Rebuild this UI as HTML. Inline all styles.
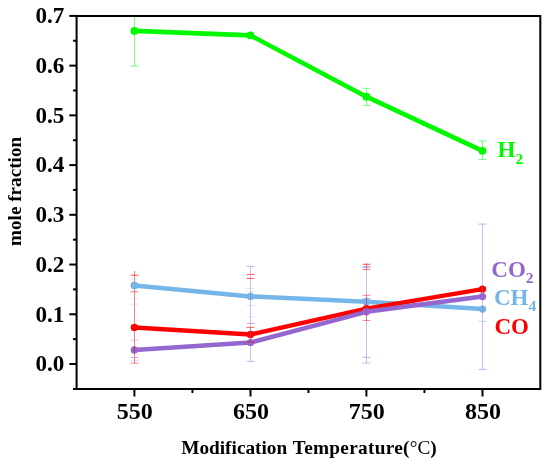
<!DOCTYPE html><html><head><meta charset="utf-8"><style>html,body{margin:0;padding:0;background:#fff;}svg{display:block;}text{font-family:"Liberation Serif",serif;font-weight:bold;}</style></head><body>
<svg width="550" height="464" viewBox="0 0 550 464">
<rect width="550" height="464" fill="#fff"/>
<polyline points="134.4,30.9 250.5,35.4 366.4,96.7 482.5,150.8" fill="none" stroke="#00f800" stroke-width="4.6" stroke-linejoin="round"/>
<circle cx="134.4" cy="30.9" r="3.9" fill="#00f800"/>
<circle cx="250.5" cy="35.4" r="3.9" fill="#00f800"/>
<circle cx="366.4" cy="96.7" r="3.9" fill="#00f800"/>
<circle cx="482.5" cy="150.8" r="3.9" fill="#00f800"/>
<polyline points="134.4,285.5 250.5,296.4 366.4,301.8 482.5,309.1" fill="none" stroke="#75b5e7" stroke-width="4.5" stroke-linejoin="round"/>
<circle cx="134.4" cy="285.5" r="3.7" fill="#75b5e7"/>
<circle cx="250.5" cy="296.4" r="3.7" fill="#75b5e7"/>
<circle cx="366.4" cy="301.8" r="3.7" fill="#75b5e7"/>
<circle cx="482.5" cy="309.1" r="3.7" fill="#75b5e7"/>
<polyline points="134.4,327.4 250.5,334.5 366.4,308.6 482.5,289.1" fill="none" stroke="#ff0000" stroke-width="4.5" stroke-linejoin="round"/>
<circle cx="134.4" cy="327.4" r="3.7" fill="#ff0000"/>
<circle cx="250.5" cy="334.5" r="3.7" fill="#ff0000"/>
<circle cx="366.4" cy="308.6" r="3.7" fill="#ff0000"/>
<circle cx="482.5" cy="289.1" r="3.7" fill="#ff0000"/>
<polyline points="134.4,349.9 250.5,342.6 366.4,311.8 482.5,296.6" fill="none" stroke="#9467cf" stroke-width="4.5" stroke-linejoin="round"/>
<circle cx="134.4" cy="349.9" r="3.7" fill="#9467cf"/>
<circle cx="250.5" cy="342.6" r="3.7" fill="#9467cf"/>
<circle cx="366.4" cy="311.8" r="3.7" fill="#9467cf"/>
<circle cx="482.5" cy="296.6" r="3.7" fill="#9467cf"/>
<line x1="134.5" y1="16.5" x2="134.5" y2="66.1" stroke="#00f800" stroke-width="1.0" stroke-opacity="0.5"/>
<line x1="130.6" y1="66.1" x2="138.4" y2="66.1" stroke="#00f800" stroke-width="1.0" stroke-opacity="0.5"/>
<line x1="366.5" y1="88.3" x2="366.5" y2="105.4" stroke="#00f800" stroke-width="1.0" stroke-opacity="0.5"/>
<line x1="362.6" y1="88.3" x2="370.4" y2="88.3" stroke="#00f800" stroke-width="1.0" stroke-opacity="0.5"/>
<line x1="362.6" y1="105.4" x2="370.4" y2="105.4" stroke="#00f800" stroke-width="1.0" stroke-opacity="0.5"/>
<line x1="482.5" y1="141" x2="482.5" y2="159.5" stroke="#00f800" stroke-width="1.0" stroke-opacity="0.5"/>
<line x1="478.6" y1="141" x2="486.4" y2="141" stroke="#00f800" stroke-width="1.0" stroke-opacity="0.5"/>
<line x1="478.6" y1="159.5" x2="486.4" y2="159.5" stroke="#00f800" stroke-width="1.0" stroke-opacity="0.5"/>
<line x1="134.5" y1="271" x2="134.5" y2="363.1" stroke="#ff0000" stroke-width="1.0" stroke-opacity="0.5"/>
<line x1="130.6" y1="275.2" x2="138.4" y2="275.2" stroke="#ff0000" stroke-width="1.0" stroke-opacity="0.7"/>
<line x1="130.6" y1="291.8" x2="138.4" y2="291.8" stroke="#ff0000" stroke-width="1.0" stroke-opacity="0.45"/>
<line x1="130.6" y1="363.1" x2="138.4" y2="363.1" stroke="#ff0000" stroke-width="1.0" stroke-opacity="0.5"/>
<line x1="246.6" y1="274.4" x2="254.4" y2="274.4" stroke="#ff0000" stroke-width="1.0" stroke-opacity="0.65"/>
<line x1="246.6" y1="278.5" x2="254.4" y2="278.5" stroke="#ff0000" stroke-width="1.0" stroke-opacity="0.65"/>
<line x1="246.6" y1="327.3" x2="254.4" y2="327.3" stroke="#ff0000" stroke-width="1.0" stroke-opacity="0.65"/>
<line x1="246.6" y1="342.1" x2="254.4" y2="342.1" stroke="#ff0000" stroke-width="1.0" stroke-opacity="0.6"/>
<line x1="366.5" y1="263" x2="366.5" y2="269.6" stroke="#ff0000" stroke-width="1.0" stroke-opacity="0.5"/>
<line x1="366.5" y1="295.3" x2="366.5" y2="320.5" stroke="#ff0000" stroke-width="1.0" stroke-opacity="0.5"/>
<line x1="250.5" y1="327.3" x2="250.5" y2="342.1" stroke="#ff0000" stroke-width="1.0" stroke-opacity="0.5"/>
<line x1="362.6" y1="264.3" x2="370.4" y2="264.3" stroke="#ff0000" stroke-width="1.0" stroke-opacity="0.65"/>
<line x1="362.6" y1="269.6" x2="370.4" y2="269.6" stroke="#ff0000" stroke-width="1.0" stroke-opacity="0.5"/>
<line x1="362.6" y1="295.3" x2="370.4" y2="295.3" stroke="#ff0000" stroke-width="1.0" stroke-opacity="0.5"/>
<line x1="362.6" y1="320.5" x2="370.4" y2="320.5" stroke="#ff0000" stroke-width="1.0" stroke-opacity="0.45"/>
<circle cx="134.4" cy="285.5" r="3.7" fill="#75b5e7"/>
<line x1="130.6" y1="279" x2="138.4" y2="279" stroke="#75b5e7" stroke-width="1.0" stroke-opacity="0.3"/>
<line x1="130.6" y1="291.8" x2="138.4" y2="291.8" stroke="#75b5e7" stroke-width="1.0" stroke-opacity="0.35"/>
<line x1="130.6" y1="298.8" x2="138.4" y2="298.8" stroke="#75b5e7" stroke-width="1.0" stroke-opacity="0.3"/>
<line x1="130.6" y1="304.3" x2="138.4" y2="304.3" stroke="#75b5e7" stroke-width="1.0" stroke-opacity="0.3"/>
<line x1="130.6" y1="360.4" x2="138.4" y2="360.4" stroke="#75b5e7" stroke-width="1.0" stroke-opacity="0.35"/>
<line x1="246.6" y1="288.4" x2="254.4" y2="288.4" stroke="#75b5e7" stroke-width="1.0" stroke-opacity="0.3"/>
<line x1="246.6" y1="291.6" x2="254.4" y2="291.6" stroke="#75b5e7" stroke-width="1.0" stroke-opacity="0.3"/>
<line x1="246.6" y1="305.5" x2="254.4" y2="305.5" stroke="#75b5e7" stroke-width="1.0" stroke-opacity="0.3"/>
<line x1="246.6" y1="316.8" x2="254.4" y2="316.8" stroke="#75b5e7" stroke-width="1.0" stroke-opacity="0.25"/>
<line x1="362.6" y1="298.6" x2="370.4" y2="298.6" stroke="#75b5e7" stroke-width="1.0" stroke-opacity="0.7"/>
<line x1="478.6" y1="321.4" x2="486.4" y2="321.4" stroke="#75b5e7" stroke-width="1.0" stroke-opacity="0.55"/>
<line x1="130.6" y1="340.2" x2="138.4" y2="340.2" stroke="#9467cf" stroke-width="1.0" stroke-opacity="0.35"/>
<line x1="130.6" y1="357.5" x2="138.4" y2="357.5" stroke="#9467cf" stroke-width="1.0" stroke-opacity="0.5"/>
<line x1="250.5" y1="266.4" x2="250.5" y2="361.4" stroke="#9467cf" stroke-width="1.0" stroke-opacity="0.42"/>
<line x1="246.6" y1="266.4" x2="254.4" y2="266.4" stroke="#9467cf" stroke-width="1.0" stroke-opacity="0.5"/>
<line x1="246.6" y1="361.4" x2="254.4" y2="361.4" stroke="#9467cf" stroke-width="1.0" stroke-opacity="0.5"/>
<line x1="246.6" y1="323.4" x2="254.4" y2="323.4" stroke="#9467cf" stroke-width="1.0" stroke-opacity="0.55"/>
<line x1="366.5" y1="267" x2="366.5" y2="363" stroke="#9467cf" stroke-width="1.0" stroke-opacity="0.42"/>
<line x1="362.6" y1="267" x2="370.4" y2="267" stroke="#9467cf" stroke-width="1.6" stroke-opacity="0.6"/>
<line x1="362.6" y1="357.3" x2="370.4" y2="357.3" stroke="#9467cf" stroke-width="1.0" stroke-opacity="0.55"/>
<line x1="362.6" y1="363" x2="370.4" y2="363" stroke="#9467cf" stroke-width="1.0" stroke-opacity="0.45"/>
<line x1="482.5" y1="224.1" x2="482.5" y2="369.4" stroke="#9467cf" stroke-width="1.0" stroke-opacity="0.42"/>
<line x1="478.6" y1="224.1" x2="486.4" y2="224.1" stroke="#9467cf" stroke-width="1.0" stroke-opacity="0.55"/>
<line x1="478.6" y1="369.4" x2="486.4" y2="369.4" stroke="#9467cf" stroke-width="1.0" stroke-opacity="0.55"/>
<rect x="76.6" y="16.0" width="463.69999999999993" height="373.0" fill="none" stroke="#000" stroke-width="2"/>
<line x1="69.3" y1="364.00" x2="76.6" y2="364.00" stroke="#000" stroke-width="2"/>
<text transform="translate(64.4,371.40) scale(0.965,1)" font-size="24" text-anchor="end">0.0</text>
<line x1="69.3" y1="314.27" x2="76.6" y2="314.27" stroke="#000" stroke-width="2"/>
<text transform="translate(64.4,321.67) scale(0.965,1)" font-size="24" text-anchor="end">0.1</text>
<line x1="69.3" y1="264.54" x2="76.6" y2="264.54" stroke="#000" stroke-width="2"/>
<text transform="translate(64.4,271.94) scale(0.965,1)" font-size="24" text-anchor="end">0.2</text>
<line x1="69.3" y1="214.81" x2="76.6" y2="214.81" stroke="#000" stroke-width="2"/>
<text transform="translate(64.4,222.21) scale(0.965,1)" font-size="24" text-anchor="end">0.3</text>
<line x1="69.3" y1="165.08" x2="76.6" y2="165.08" stroke="#000" stroke-width="2"/>
<text transform="translate(64.4,172.48) scale(0.965,1)" font-size="24" text-anchor="end">0.4</text>
<line x1="69.3" y1="115.35" x2="76.6" y2="115.35" stroke="#000" stroke-width="2"/>
<text transform="translate(64.4,122.75) scale(0.965,1)" font-size="24" text-anchor="end">0.5</text>
<line x1="69.3" y1="65.62" x2="76.6" y2="65.62" stroke="#000" stroke-width="2"/>
<text transform="translate(64.4,73.02) scale(0.965,1)" font-size="24" text-anchor="end">0.6</text>
<line x1="69.3" y1="15.89" x2="76.6" y2="15.89" stroke="#000" stroke-width="2"/>
<text transform="translate(64.4,23.29) scale(0.965,1)" font-size="24" text-anchor="end">0.7</text>
<line x1="73" y1="339.13" x2="76.6" y2="339.13" stroke="#000" stroke-width="2"/>
<line x1="73" y1="289.40" x2="76.6" y2="289.40" stroke="#000" stroke-width="2"/>
<line x1="73" y1="239.68" x2="76.6" y2="239.68" stroke="#000" stroke-width="2"/>
<line x1="73" y1="189.94" x2="76.6" y2="189.94" stroke="#000" stroke-width="2"/>
<line x1="73" y1="140.22" x2="76.6" y2="140.22" stroke="#000" stroke-width="2"/>
<line x1="73" y1="90.48" x2="76.6" y2="90.48" stroke="#000" stroke-width="2"/>
<line x1="73" y1="40.75" x2="76.6" y2="40.75" stroke="#000" stroke-width="2"/>
<line x1="73" y1="389.0" x2="76.6" y2="389.0" stroke="#000" stroke-width="2"/>
<line x1="134.4" y1="389.0" x2="134.4" y2="396.5" stroke="#000" stroke-width="2"/>
<text x="134.8" y="419.2" font-size="24" text-anchor="middle">550</text>
<line x1="250.5" y1="389.0" x2="250.5" y2="396.5" stroke="#000" stroke-width="2"/>
<text x="250.9" y="419.2" font-size="24" text-anchor="middle">650</text>
<line x1="366.4" y1="389.0" x2="366.4" y2="396.5" stroke="#000" stroke-width="2"/>
<text x="366.79999999999995" y="419.2" font-size="24" text-anchor="middle">750</text>
<line x1="482.5" y1="389.0" x2="482.5" y2="396.5" stroke="#000" stroke-width="2"/>
<text x="482.9" y="419.2" font-size="24" text-anchor="middle">850</text>
<line x1="192.45" y1="389.0" x2="192.45" y2="393" stroke="#000" stroke-width="2"/>
<line x1="308.45" y1="389.0" x2="308.45" y2="393" stroke="#000" stroke-width="2"/>
<line x1="424.45" y1="389.0" x2="424.45" y2="393" stroke="#000" stroke-width="2"/>
<text y="453.6" font-size="19.3"><tspan x="181.2">Modification</tspan><tspan x="292.8" letter-spacing="0.28">Temperature(</tspan><tspan font-weight="normal">°C</tspan>)</text>
<text transform="translate(21.3,191.4) rotate(-90)" x="0" y="0" font-size="19.2" text-anchor="middle">mole fraction</text>
<text x="497.5" y="157.3" font-size="23" fill="#00f800">H<tspan font-size="15.5" dy="6.3">2</tspan></text>
<text x="491.3" y="276.5" font-size="23" fill="#9467cf">CO<tspan font-size="15.5" dy="6.3">2</tspan></text>
<text x="494.0" y="305.0" font-size="23" fill="#75b5e7">CH<tspan font-size="15.5" dy="6.3">4</tspan></text>
<text x="494.4" y="334.0" font-size="23" fill="#ff0000">CO<tspan font-size="15.5" dy="6.3"></tspan></text>
</svg></body></html>
